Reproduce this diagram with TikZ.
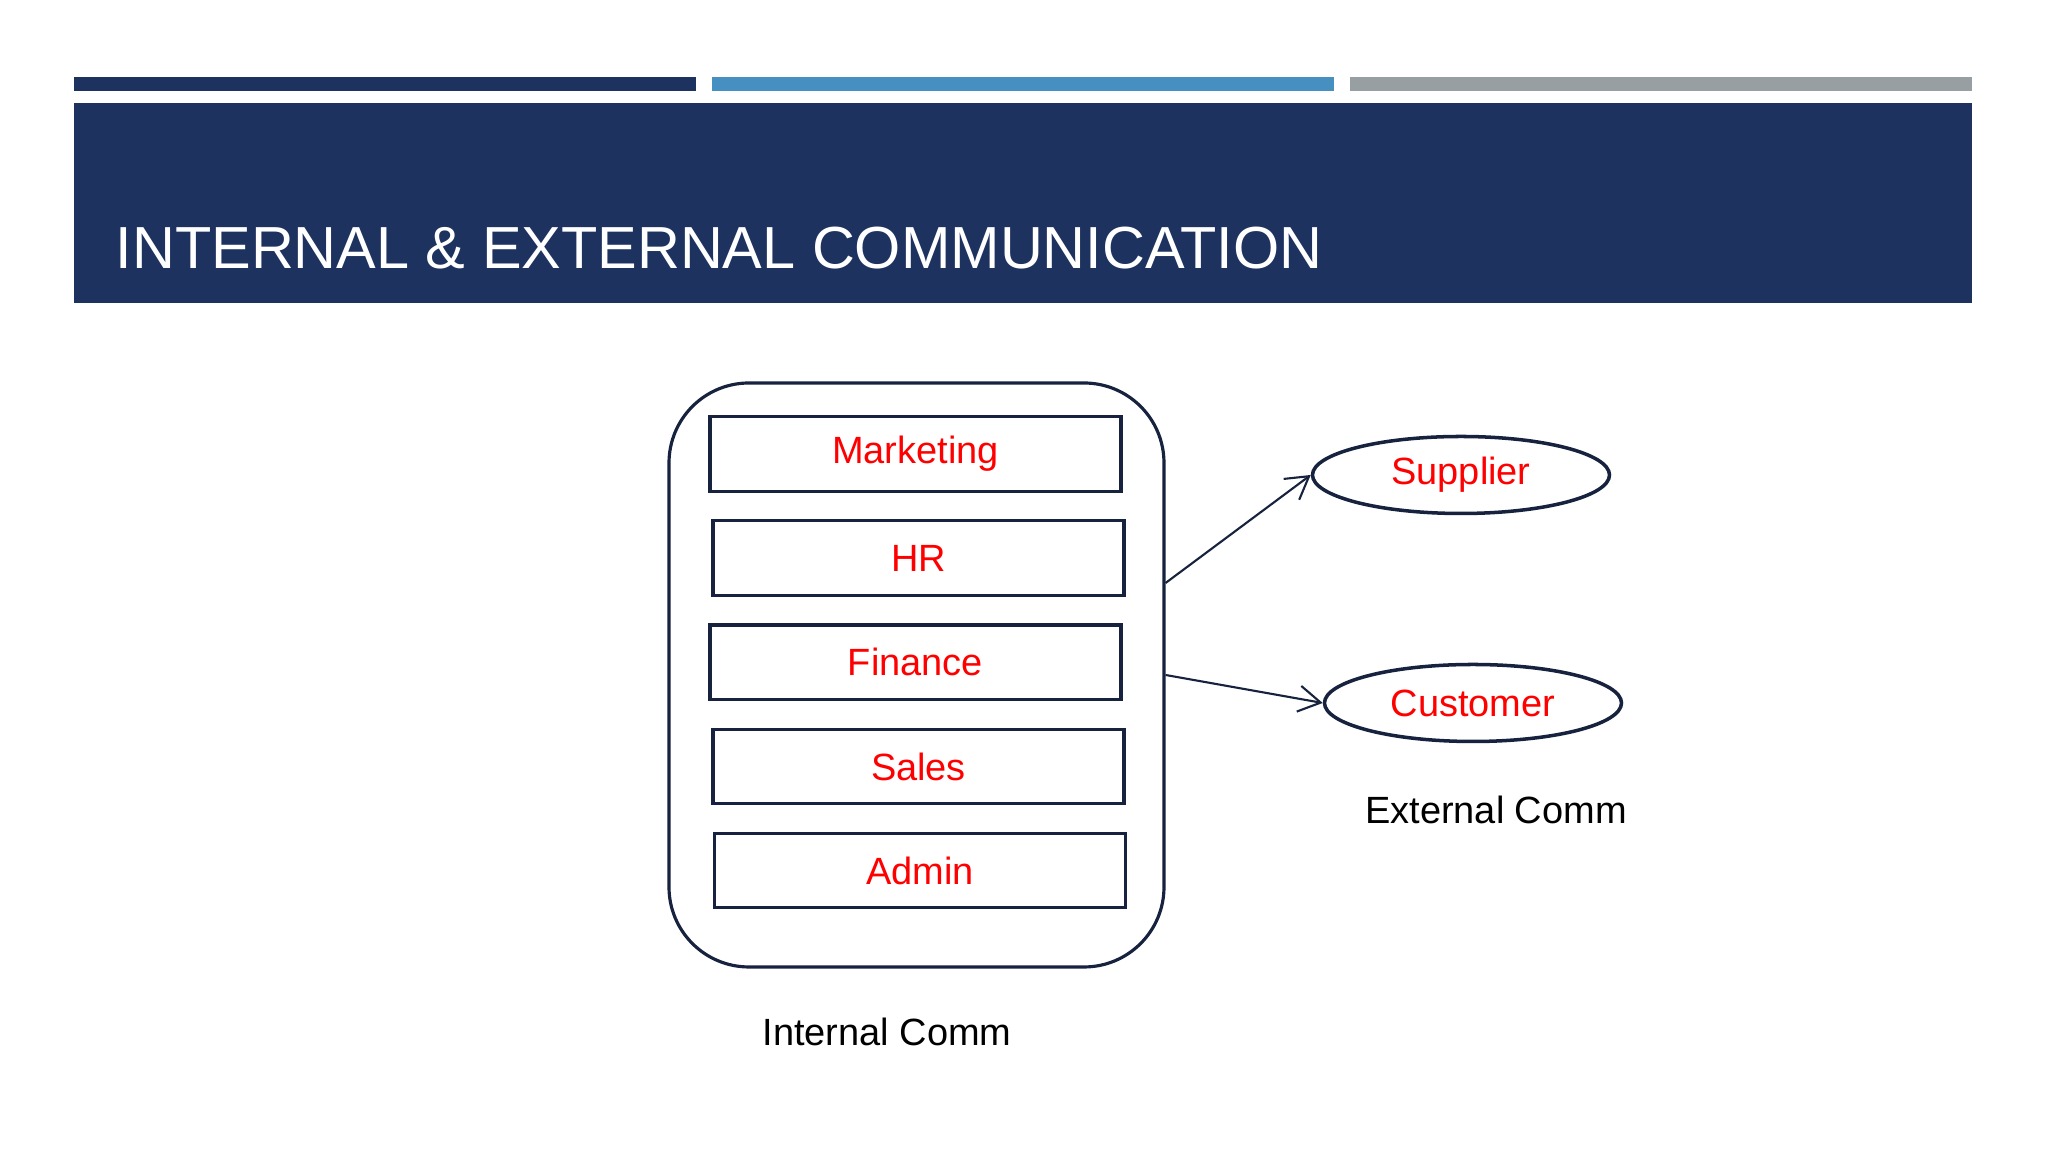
\documentclass[tikz,border=0pt]{standalone}
\usepackage{fontspec}
\setmainfont{Liberation Sans}
\usetikzlibrary{arrows.meta,positioning,shapes.geometric}
\definecolor{navy}{RGB}{30,50,96}
\definecolor{steel}{RGB}{70,144,193}
\definecolor{greybar}{RGB}{151,159,163}
\definecolor{ink}{RGB}{22,34,62}

\begin{document}
\begin{tikzpicture}[>={Straight Barb[length=2.2mm,width=2.6mm]}, node distance=2.65mm,
    font=\fontsize{10.8}{13}\selectfont,
    dept/.style={draw=ink, line width=0.9pt, minimum width=4.11cm, minimum height=0.745cm, inner sep=0pt, text=red},
    party/.style={draw=ink, ellipse, line width=1pt, minimum width=2.97cm, minimum height=0.77cm, inner sep=0pt, text=red},
    caption/.style={text=black}]
  \useasboundingbox (0,0) rectangle (20.48,11.52);
  \fill[navy] (0.74,10.61) rectangle (6.96,10.75);
  \fill[steel] (7.12,10.61) rectangle (13.34,10.75);
  \fill[greybar] (13.50,10.61) rectangle (19.72,10.75);
  \fill[navy] (0.74,8.49) rectangle (19.72,10.49);
  \node[anchor=base west, inner sep=0pt, text=white, font=\fontsize{16.9}{20}\selectfont] (title) at (1.15,8.83) {INTERNAL \& EXTERNAL COMMUNICATION};

  \node[draw=ink, line width=0.9pt, rounded corners=0.8cm, minimum width=4.95cm, minimum height=5.84cm] (grp) at (9.165,4.77) {};
  \node[dept] (mkt) at (9.155,6.98) {Marketing};
  \node[dept, below=of mkt, xshift=0.3mm] (hr) {HR};
  \node[dept, below=of hr, xshift=-0.3mm] (fin) {Finance};
  \node[dept, below=of fin, xshift=0.3mm] (sal) {Sales};
  \node[dept, below=of sal, xshift=0.15mm] (adm) {Admin};
  \node[caption] (intc) at (8.87,1.2) {Internal Comm};

  \node[party] (sup) at (14.61,6.77) {Supplier};
  \node[party] (cust) at (14.73,4.49) {Customer};
  \node[caption] (extc) at (14.96,3.42) {External Comm};

  \draw[->, ink, line width=0.6pt] ([yshift=0.92cm]grp.east) -- (sup.west);
  \draw[->, ink, line width=0.6pt] (grp.east) -- (cust.west);
\end{tikzpicture}
\end{document}
